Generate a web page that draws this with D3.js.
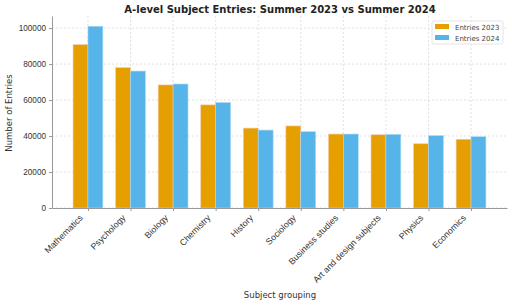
<!DOCTYPE html>
<html>
<head>
<meta charset="utf-8">
<script src="https://cdn.jsdelivr.net/npm/d3@7"></script>
<style>
	body { margin: 0; background: #fff; }
	svg { font-family: "DejaVu Sans", sans-serif; }
	.grid line { stroke: #d6d6d6; stroke-dasharray: 2,2; stroke-width: 0.7; }
	.axis path, .axis line { stroke: #999; }
	.axis text { fill: #333; }
</style>
</head>
<body>
<script>
const subjects = ["Mathematics", "Psychology", "Biology", "Chemistry", "History", "Sociology",
	"Business studies", "Art and design subjects", "Physics", "Economics"];
const entries2023 = [90800, 78000, 68400, 57300, 44400, 45600, 41100, 40700, 35700, 38200];
const entries2024 = [101000, 76100, 68900, 58600, 43300, 42400, 41100, 40900, 40200, 39600];
const yTicks = [0, 20000, 40000, 60000, 80000, 100000];
const seriesNames = ["Entries 2023", "Entries 2024"];
const colors = ["#E69F00", "#56B4E9"];

const width = 512, height = 305;
const margin = { top: 16, right: 5, bottom: 97, left: 52 };
const barW = 0.35;

const svg = d3.select("body").append("svg").attr("width", width).attr("height", height);

const x = d3.scaleLinear()
	.domain([-0.845, subjects.length - 1 + 0.845])
	.range([margin.left, width - margin.right]);
const y = d3.scaleLinear()
	.domain([0, 106700])
	.range([height - margin.bottom, margin.top]);

// grid
const grid = svg.append("g").attr("class", "grid");
grid.selectAll(".gy").data(yTicks).enter().append("line")
	.attr("x1", margin.left).attr("x2", width - margin.right)
	.attr("y1", d => y(d)).attr("y2", d => y(d));
grid.selectAll(".gx").data(subjects).enter().append("line")
	.attr("x1", (d, i) => x(i)).attr("x2", (d, i) => x(i))
	.attr("y1", margin.top).attr("y2", height - margin.bottom);

// bars
[entries2023, entries2024].forEach((vals, s) => {
	svg.append("g").selectAll("rect").data(vals).enter().append("rect")
		.attr("x", (d, i) => x(i + (s === 0 ? -barW : 0)))
		.attr("width", x(barW) - x(0))
		.attr("y", d => y(d))
		.attr("height", d => y(0) - y(d))
		.attr("fill", colors[s])
		.attr("stroke", s === 0 ? "#f3c9b0" : "#a9daf3")
		.attr("stroke-width", 0.6);
});

// axes
const xAxis = svg.append("g").attr("class", "axis")
	.attr("transform", "translate(0," + (height - margin.bottom) + ")")
	.call(d3.axisBottom(x).tickValues(d3.range(subjects.length)).tickFormat(i => subjects[i]).tickSize(3).tickSizeOuter(0));
xAxis.selectAll("text")
	.attr("font-size", "8.8px")
	.attr("text-anchor", "end")
	.attr("x", 0).attr("y", 0).attr("dy", 0)
	.attr("transform", "translate(-5,10.5) rotate(-45)");

svg.append("g").attr("class", "axis")
	.attr("transform", "translate(" + margin.left + ",0)")
	.call(d3.axisLeft(y).tickValues(yTicks).tickFormat(d3.format("d")).tickSize(3).tickSizeOuter(0))
	.selectAll("text").attr("font-size", "8.2px");

// title and labels
svg.append("text").attr("x", 280).attr("y", 13)
	.attr("text-anchor", "middle").attr("font-size", "10px").attr("font-weight", "bold")
	.attr("fill", "#222").text("A-level Subject Entries: Summer 2023 vs Summer 2024");
svg.append("text").attr("x", 280).attr("y", 298)
	.attr("text-anchor", "middle").attr("font-size", "8.5px").attr("fill", "#333")
	.text("Subject grouping");
svg.append("text").attr("transform", "translate(12,113) rotate(-90)")
	.attr("text-anchor", "middle").attr("font-size", "8.5px").attr("fill", "#333")
	.text("Number of Entries");

// legend
const lg = svg.append("g").attr("transform", "translate(432,21)");
lg.append("rect").attr("width", 71).attr("height", 23).attr("rx", 2)
	.attr("fill", "#fff").attr("fill-opacity", 0.8).attr("stroke", "#ddd").attr("stroke-width", 0.8);
seriesNames.forEach((n, i) => {
	lg.append("rect").attr("x", 3).attr("y", 3 + i * 11).attr("width", 14).attr("height", 5).attr("fill", colors[i]);
	lg.append("text").attr("x", 23).attr("y", 9 + i * 11).attr("font-size", "7px").attr("fill", "#444").text(n);
});
</script>
</body>
</html>
